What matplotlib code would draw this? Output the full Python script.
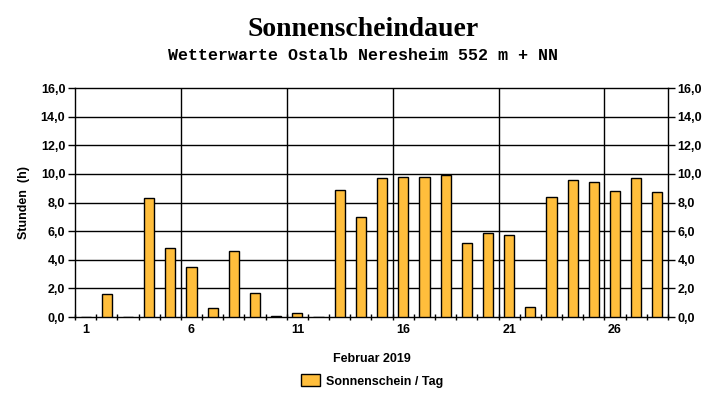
import numpy as np
import matplotlib
matplotlib.use("Agg")
import matplotlib.pyplot as plt
from matplotlib.patches import Patch

# Sonnenscheindauer Februar 2019 (Stunden pro Tag)
days = list(range(1, 29))
sunshine = [0.0, 1.6, 0.0, 8.3, 4.8, 3.5, 0.6, 4.6, 1.7, 0.1,
            0.3, 0.0, 8.9, 7.0, 9.7, 9.8, 9.8, 9.9, 5.2, 5.9,
            5.7, 0.7, 8.4, 9.6, 9.4, 8.8, 9.7, 8.7]
yticks = [0, 2, 4, 6, 8, 10, 12, 14, 16]
xlabels = [1, 6, 11, 16, 21, 26]

bar_color = "#FFBE3C"

fig = plt.figure(figsize=(7.27, 4.04), dpi=100)
ax = fig.add_axes([75 / 727, 1 - 317 / 404, 593 / 727, 229 / 404])

ax.bar(days, sunshine, width=0.48, color=bar_color, edgecolor="black",
       linewidth=1.0, zorder=3)

ax.set_xlim(0.5, 28.5)
ax.set_ylim(0, 16)

# horizontal grid
for y in yticks[1:-1]:
    ax.axhline(y, color="black", linewidth=1.0, zorder=1)
# vertical grid between groups of five days
for x in [5.5, 10.5, 15.5, 20.5, 25.5]:
    ax.axvline(x, color="black", linewidth=1.0, zorder=1)

ax.set_xticks(xlabels)
ax.set_xticklabels([str(d) for d in xlabels])
ax.set_xticks(np.arange(0.5, 29, 1), minor=True)
ax.tick_params(axis="x", which="major", length=0, pad=5)
ax.tick_params(axis="x", which="minor", length=5, direction="inout", width=1)

ax.set_yticks(yticks)
ax.set_yticklabels([f"{v:.1f}".replace(".", ",") for v in yticks])
ax.tick_params(axis="y", which="major", length=5, width=1, direction="out",
               left=True, right=True, labelleft=True, labelright=True, pad=2)

for lbl in ax.get_xticklabels() + ax.get_yticklabels():
    lbl.set_fontweight("bold")
    lbl.set_fontsize(9)
    lbl.set_family("Liberation Sans")

for s in ax.spines.values():
    s.set_linewidth(1.0)

ax.set_ylabel("Stunden  (h)", fontsize=9, fontweight="bold",
              family="Liberation Sans", labelpad=8)
ax.set_xlabel("Februar 2019", fontsize=9, fontweight="bold",
              family="Liberation Sans", labelpad=12)

fig.text(0.5, 1 - 29 / 404, "Sonnenscheindauer", ha="center", va="center",
         fontsize=20, fontweight="bold", family="Liberation Serif")
fig.text(0.5, 1 - 55 / 404, "Wetterwarte Ostalb Neresheim 552 m + NN",
         ha="center", va="center", fontsize=12, fontweight="bold",
         family="Liberation Mono")

handle = Patch(facecolor=bar_color, edgecolor="black", linewidth=1.0)
fig.legend([handle], ["Sonnenschein / Tag"], loc="center",
           bbox_to_anchor=(372 / 727, 1 - 381 / 404), frameon=False,
           prop={"family": "Liberation Sans", "weight": "bold", "size": 9},
           handlelength=1.5, handleheight=1.1, handletextpad=0.5)

fig.savefig("out.png", dpi=100)
